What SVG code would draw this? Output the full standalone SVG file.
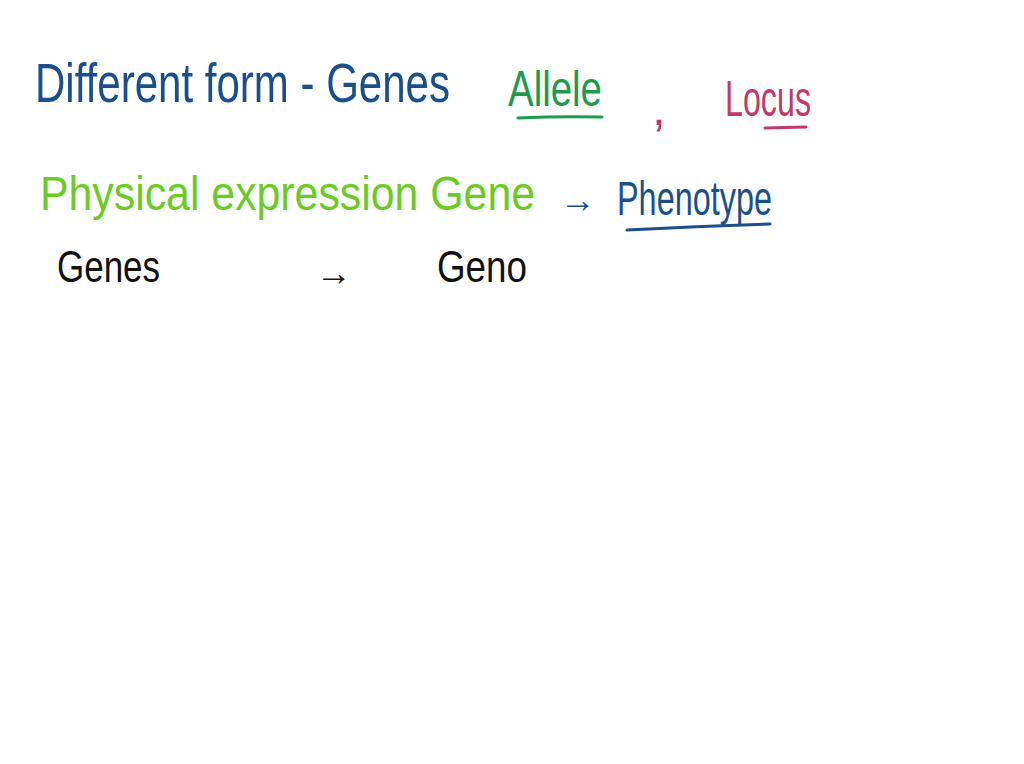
<svg xmlns="http://www.w3.org/2000/svg" width="1024" height="764" viewBox="0 0 1024 764">
<style>
text{font-family:"Liberation Sans",Arial,sans-serif;font-weight:normal}
.b{fill:#1b4f8c}.g{fill:#1f9a4c}.p{fill:#c2386a}.lg{fill:#6acb24}.k{fill:#111}
.u{fill:none;stroke-width:3;stroke-linecap:round}
</style>
<rect width="1024" height="764" fill="#fff"/>
<text class="b" x="35" y="102" font-size="56" textLength="415" lengthAdjust="spacingAndGlyphs">Different form - Genes</text>
<text class="g" x="508" y="106" font-size="50" textLength="94" lengthAdjust="spacingAndGlyphs">Allele</text>
<path class="u" stroke="#1f9a4c" d="M518 118 Q560 116 602 117"/>
<text class="p" x="652" y="125" font-size="50">,</text>
<text class="p" x="725" y="116" font-size="50" textLength="86" lengthAdjust="spacingAndGlyphs">Locus</text>
<path class="u" stroke="#c2386a" d="M765 128 L806 127"/>
<text class="lg" x="40" y="210" font-size="48" textLength="495" lengthAdjust="spacingAndGlyphs">Physical   expression  Gene</text>
<text class="b" x="560" y="212" font-size="36">→</text>
<text class="b" x="617" y="215" font-size="48" textLength="155" lengthAdjust="spacingAndGlyphs">Phenotype</text>
<path class="u" stroke="#1b4f8c" d="M627 230 Q700 226 770 224"/>
<text class="k" x="57" y="282" font-size="44" textLength="103" lengthAdjust="spacingAndGlyphs">Genes</text>
<text class="k" x="316" y="285" font-size="36">→</text>
<text class="k" x="437" y="282" font-size="44" textLength="90" lengthAdjust="spacingAndGlyphs">Geno</text>
</svg>
